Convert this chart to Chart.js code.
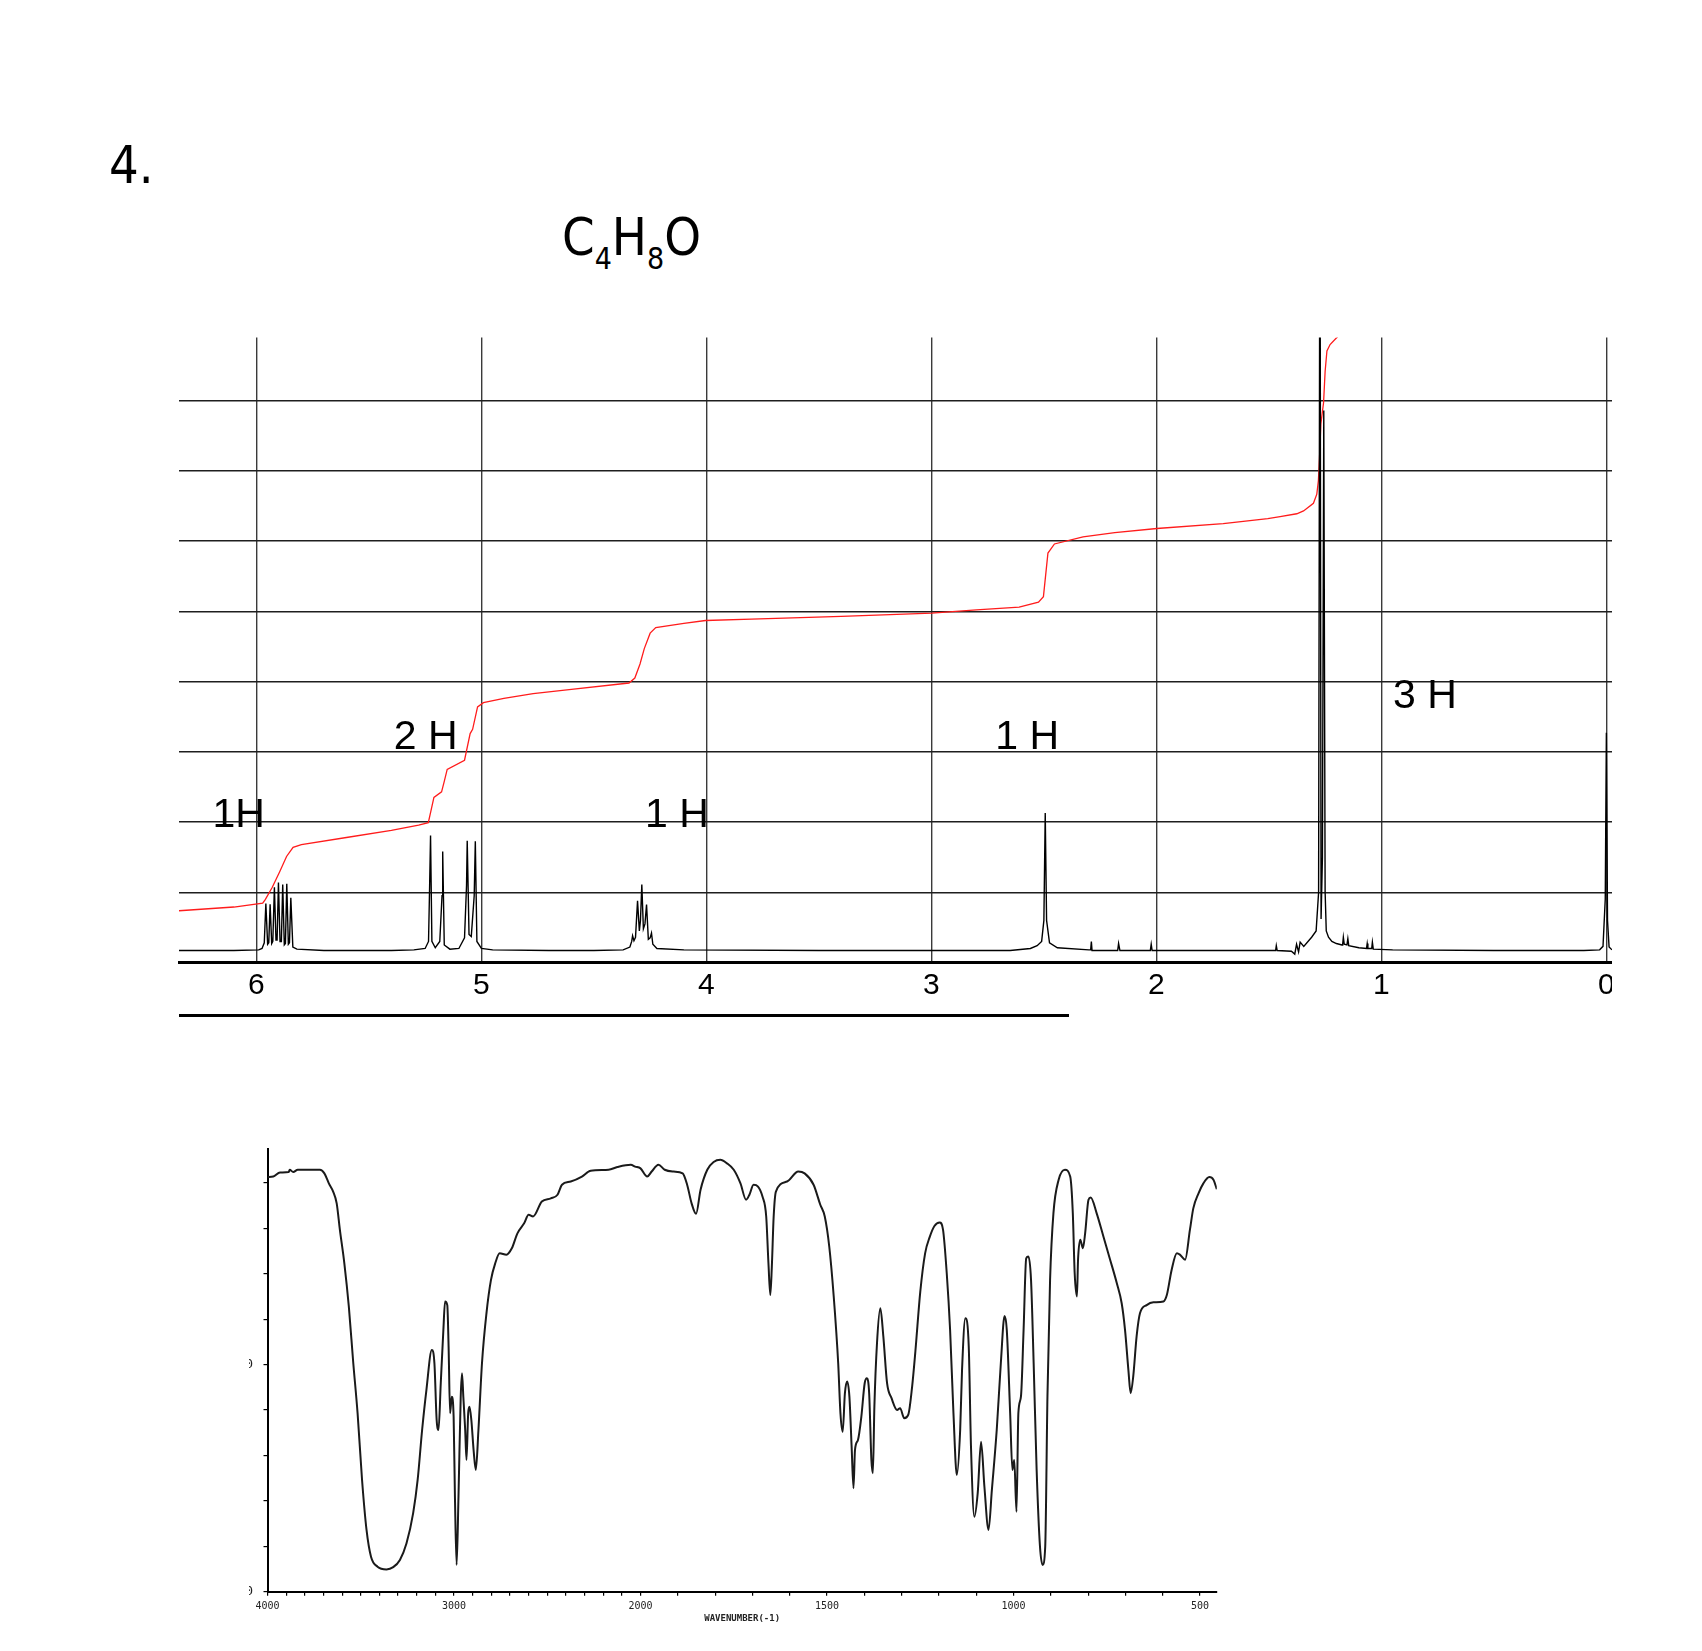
<!DOCTYPE html>
<html>
<head>
<meta charset="utf-8">
<script src="https://cdn.jsdelivr.net/npm/chart.js@4.4.1/dist/chart.umd.min.js"></script>
<style>
html,body{margin:0;padding:0;background:#fff;}
body{width:1702px;height:1651px;position:relative;overflow:hidden;}
.t{position:absolute;color:#000;white-space:nowrap;line-height:1;font-family:"Liberation Sans Narrow","DejaVu Sans Condensed","Liberation Sans",sans-serif;font-size:52px;}
.t .s{position:relative;top:14px;font-size:30px;}
#num{left:109px;top:139px;}
#formula{left:562px;top:211px;}
#nmrWrap{position:absolute;left:150px;top:300px;width:1462px;height:760px;overflow:hidden;}
#irWrap{position:absolute;left:249px;top:1130px;width:1000px;height:521px;overflow:hidden;}
#rule{position:absolute;left:179px;top:1014px;width:890px;height:3px;background:#000;}
</style>
</head>
<body>
<div class="t" id="num">4.</div>
<div class="t" id="formula">C<span class="s">4</span>H<span class="s">8</span>O</div>
<div id="nmrWrap"><canvas id="nmr" width="1520" height="720"></canvas></div>
<div id="rule"></div>
<div id="irWrap"><canvas id="ir" width="1000" height="521"></canvas></div>
<script>
// ---------------- NMR data ----------------
const nmrPpm = [6.344,6.10,5.99,5.975,5.965,5.958,5.950,5.945,5.939,5.932,5.927,5.920,5.913,5.908,5.902,5.895,5.889,5.883,5.876,5.871,5.865,5.858,5.853,5.847,5.838,5.82,5.70,5.40,5.30,5.25,5.235,5.230,5.226,5.220,5.205,5.185,5.175,5.172,5.165,5.14,5.10,5.075,5.066,5.063,5.055,5.045,5.032,5.027,5.020,5.00,4.95,4.70,4.50,4.37,4.34,4.332,4.328,4.322,4.315,4.306,4.298,4.293,4.287,4.280,4.273,4.266,4.258,4.250,4.244,4.238,4.22,4.10,3.50,3.00,2.65,2.56,2.53,2.51,2.50,2.494,2.488,2.475,2.44,2.30,2.292,2.289,2.286,2.172,2.168,2.162,2.027,2.023,2.019,1.70,1.48,1.470,1.467,1.463,1.40,1.385,1.377,1.368,1.361,1.345,1.31,1.29,1.279,1.273,1.268,1.262,1.256,1.250,1.245,1.235,1.22,1.20,1.175,1.172,1.169,1.165,1.153,1.149,1.145,1.10,1.066,1.063,1.060,1.043,1.040,1.036,0.95,0.50,0.10,0.03,0.015,0.005,0.0,-0.005,-0.012,-0.025];
const nmrIntensity = [0.17,0.17,0.18,0.20,0.28,0.84,0.26,0.28,0.83,0.27,0.30,1.07,0.32,0.32,1.14,0.30,0.30,1.11,0.25,0.27,1.12,0.26,0.28,0.92,0.22,0.19,0.17,0.17,0.18,0.20,0.30,1.10,1.81,0.30,0.21,0.30,0.95,1.58,0.25,0.19,0.20,0.35,1.10,1.735,0.40,0.37,0.95,1.725,0.30,0.20,0.18,0.17,0.17,0.18,0.22,0.30,0.38,0.31,0.36,0.88,0.45,0.60,1.11,0.48,0.55,0.825,0.33,0.35,0.42,0.26,0.20,0.18,0.17,0.17,0.17,0.20,0.24,0.30,0.60,2.13,0.60,0.28,0.21,0.18,0.18,0.30,0.17,0.17,0.27,0.17,0.17,0.26,0.17,0.17,0.17,0.17,0.24,0.17,0.16,0.12,0.26,0.15,0.29,0.23,0.36,0.45,1.0,12,0.62,1.5,7.86,1.0,0.45,0.36,0.30,0.27,0.25,0.26,0.36,0.26,0.25,0.34,0.24,0.21,0.20,0.27,0.20,0.20,0.29,0.19,0.18,0.17,0.17,0.18,0.23,0.9,3.27,0.6,0.22,0.18];
const integralPpm = [6.344,6.10,5.972,5.96,5.93,5.897,5.866,5.837,5.80,5.60,5.40,5.279,5.236,5.225,5.211,5.177,5.165,5.152,5.075,5.05,5.039,5.017,4.991,4.90,4.77,4.60,4.344,4.318,4.295,4.276,4.25,4.225,4.10,4.004,3.80,3.40,2.998,2.80,2.61,2.524,2.502,2.482,2.453,2.326,2.185,1.998,1.703,1.505,1.450,1.376,1.346,1.302,1.287,1.280,1.275,1.269,1.257,1.250,1.242,1.228,1.198,1.17];
const integralValue = [0.737,0.79,0.845,0.90,1.067,1.29,1.51,1.64,1.68,1.78,1.88,1.957,1.99,2.15,2.35,2.43,2.58,2.75,2.88,3.26,3.32,3.64,3.70,3.76,3.83,3.89,3.98,4.05,4.25,4.47,4.69,4.77,4.83,4.87,4.89,4.93,4.976,5.02,5.06,5.13,5.21,5.83,5.96,6.06,6.12,6.18,6.25,6.32,6.35,6.39,6.43,6.54,6.67,6.86,7.19,7.67,7.97,8.42,8.71,8.80,8.90,9.0];
const nmrTickLabels = [6,5,4,3,2,1,0];
const nmrGridRows = [0,1,2,3,4,5,6,7,8];
const peakLabelText = ['1H','2 H','1 H','1 H','3 H'];
const peakLabelPpm = [6.195,5.389,4.273,2.716,0.948];
const peakLabelLevel = [1.933,3.044,1.933,3.044,3.617];

// ---------------- IR data ----------------
const irWavenumber = [4000,3969,3933,3886,3881,3862,3838,3719,3695,3671,3648,3629,3612,3588,3564,3540,3517,3493,3469,3445,3410,3362,3326,3290,3255,3219,3195,3171,3148,3119,3105,3093,3083,3071,3057,3048,3036,3029,3021,3012,3002,2995,2986,2976,2964,2957,2950,2940,2933,2924,2917,2907,2895,2883,2869,2850,2826,2802,2779,2755,2719,2690,2660,2624,2600,2576,2529,2481,2445,2421,2374,2314,2267,2171,2124,2052,2029,2000,1982,1970,1952,1935,1911,1887,1875,1863,1851,1839,1821,1804,1786,1768,1750,1732,1717,1708,1697,1685,1673,1663,1657,1652,1648,1643,1637,1607,1577,1560,1536,1518,1506,1494,1482,1470,1464,1458,1452,1446,1440,1434,1429,1425,1417,1408,1399,1393,1387,1381,1377,1373,1366,1357,1349,1339,1327,1312,1304,1293,1282,1272,1263,1250,1237,1225,1212,1198,1189,1179,1170,1161,1152,1143,1138,1129,1120,1114,1105,1096,1087,1078,1067,1058,1045,1034,1024,1018,1009,1003,998,992,987,980,973,966,960,953,946,938,929,922,915,909,902,893,879,862,848,841,836,830,827,821,814,808,799,793,777,759,741,723,710,701,692,686,679,670,661,643,625,598,589,576,562,554,540,527,518,504,491,475,464,455];
const irTransmittance = [91.3,91.4,92.3,92.4,92.9,92.4,92.9,92.9,92.1,89.9,88.1,85.5,79.7,72.3,62.8,50.3,39.3,24.6,13.6,7.7,5.5,4.9,5.4,7.0,10.6,17.3,24.6,35.6,44.4,53.2,50.3,37.8,35.6,45.9,57.6,63.9,63.1,54.0,39.3,42.9,38.5,20.9,5.9,20.9,42.9,48.1,42.9,35.6,29.0,39.3,40.7,37.8,31.2,26.8,35.6,50.3,61.3,68.6,72.3,74.5,74.2,75.6,78.9,81.1,83.0,82.6,85.9,86.6,87.4,89.6,90.3,91.4,92.7,92.9,93.5,94.0,93.6,93.2,91.4,92.5,94.0,92.9,92.5,92.1,89.6,85.5,83.2,88.5,92.9,94.6,95.1,94.3,92.9,89.9,86.3,87.4,89.6,89.2,87.0,82.6,72.3,65.3,71.4,82.6,88.1,90.3,92.5,92.1,89.6,85.2,82.6,76.0,65.0,50.3,39.3,35.2,43.7,46.3,43.0,31.9,22.8,31.2,33.4,38.5,45.9,47.0,43.7,29.0,26.1,40.7,54.7,62.4,56.2,45.9,42.6,40.0,40.4,38.2,39.0,45.0,53.0,66.0,74.5,78.0,80.5,81.3,79.7,70.1,57.6,39.3,25.7,35.6,48.8,60.2,54.0,31.9,16.5,21.7,33.0,23.1,13.6,22.4,35.6,50.3,60.7,57.6,39.3,26.8,29.0,17.6,39.3,43.0,57.6,73.4,73.8,68.6,50.3,26.8,9.9,5.9,9.9,43.0,68.6,83.3,90.7,92.9,91.4,83.3,70.1,65.0,73.1,77.5,75.6,78.9,86.3,86.8,83.3,78.2,73.1,67.9,63.5,57.6,48.8,43.7,47.4,56.2,61.3,63.1,63.7,63.9,65.3,70.9,74.5,74.2,73.1,79.7,84.4,87.7,89.9,91.3,90.7,88.6];
const irTickLabels = [4000,3000,2000,1500,1000,500];
const irYTickLabels = [0,50];
const irRange = [4000,455];

// IR chart axis: 4000-2000 at one scale, 2000-455 expanded x2 (scale change at 2000)
function irAxis(wn){ return wn >= 2000 ? 4000 - wn : 2000 + 2*(2000 - wn); }
function irWn(v){ return v <= 2000 ? 4000 - v : 2000 - (v - 2000)/2; }

const peakLabelPlugin = {
  id:'peakLabels',
  afterDatasetsDraw(chart){
    const ctx = chart.ctx, xs = chart.scales.x, ys = chart.scales.y;
    ctx.save();
    ctx.fillStyle = '#000';
    ctx.font = '41px "Liberation Sans", Arial, sans-serif';
    ctx.textAlign = 'left';
    ctx.textBaseline = 'alphabetic';
    peakLabelText.forEach((t,i)=>{
      ctx.fillText(t, xs.getPixelForValue(peakLabelPpm[i]), ys.getPixelForValue(peakLabelLevel[i]));
    });
    ctx.restore();
  }
};

new Chart(document.getElementById('nmr'), {
  type:'line',
  data:{datasets:[
    {data: nmrPpm.map((p,i)=>({x:p,y:nmrIntensity[i]})), borderColor:'#000', borderWidth:1.4, pointRadius:0, tension:0},
    {data: integralPpm.map((p,i)=>({x:p,y:integralValue[i]})), borderColor:'#ff1c1c', borderWidth:1.3, pointRadius:0, tension:0}
  ]},
  options:{
    responsive:false, animation:false, events:[],
    layout:{padding:{left:29,right:58,top:37.5,bottom:7.5}},
    plugins:{legend:{display:false},tooltip:{enabled:false}},
    scales:{
      x:{type:'linear', reverse:true, min:-0.025, max:6.344,
        afterBuildTicks(s){ s.ticks = nmrTickLabels.map(v=>({value:v})); },
        afterFit(s){ s.height = 50; },
        grid:{color:'#3a3a3a', lineWidth:1.4, drawTicks:false},
        border:{display:true, color:'#000', width:3},
        ticks:{autoSkip:false, maxRotation:0, padding:5, color:'#000',
          font:{family:'"Liberation Sans", Arial, sans-serif', size:30},
          callback:(v)=>String(v)}
      },
      y:{type:'linear', min:0, max:8.9,
        afterBuildTicks(s){ s.ticks = nmrGridRows.map(v=>({value:v})); },
        afterFit(s){ s.width = 0; },
        grid:{color:(c)=> c.tick && c.tick.value===0 ? 'rgba(0,0,0,0)' : '#1e1e1e', lineWidth:1.4, drawTicks:false},
        border:{display:false},
        ticks:{display:false}
      }
    }
  },
  plugins:[peakLabelPlugin]
});

const irMinor = [];
for (let wn = irTickLabels[0]; wn >= irTickLabels[irTickLabels.length-1]; wn -= 100) irMinor.push(irAxis(wn));

new Chart(document.getElementById('ir'), {
  type:'line',
  data:{datasets:[
    {data: irWavenumber.map((w,i)=>({x:irAxis(w), y:irTransmittance[i]})), borderColor:'#1a1a1a', borderWidth:2, pointRadius:0, cubicInterpolationMode:'monotone'}
  ]},
  options:{
    responsive:false, animation:false, events:[],
    layout:{padding:{left:0,right:32.2,top:19.3,bottom:14.3}},
    plugins:{legend:{display:false},tooltip:{enabled:false}},
    scales:{
      x:{type:'linear', min:irAxis(irRange[0]), max:irAxis(irRange[1]),
        afterBuildTicks(s){ s.ticks = irMinor.map(v=>({value:v})); },
        afterFit(s){ s.height = 45; },
        grid:{drawOnChartArea:false, drawTicks:true, tickLength:4, color:'#000', lineWidth:1.2},
        border:{display:true, color:'#000', width:2},
        ticks:{autoSkip:false, maxRotation:0, padding:5, color:'#222',
          font:{family:'"DejaVu Sans Mono", monospace', size:10},
          callback:(v)=>{ const wn = Math.round(irWn(v)); return irTickLabels.includes(wn) ? String(wn) : ''; }},
        title:{display:true, text:'WAVENUMBER(-1)', color:'#222',
          font:{family:'"DejaVu Sans Mono", monospace', size:9, weight:'bold'},
          padding:{top:0,bottom:12.8}}
      },
      y:{type:'linear', min:0, max:97.4,
        afterBuildTicks(s){ const t=[]; for(let v=0; v<=90; v+=10) t.push({value:v}); s.ticks=t; },
        afterFit(s){ s.width = 18.5; },
        grid:{drawOnChartArea:false, drawTicks:true, tickLength:4, color:'#000', lineWidth:1.2},
        border:{display:true, color:'#000', width:2},
        ticks:{padding:10.5, color:'#222', font:{family:'"DejaVu Sans Mono", monospace', size:13},
          callback:(v)=> irYTickLabels.includes(v) ? String(v) : ''}
      }
    }
  }
});
</script>
</body>
</html>
